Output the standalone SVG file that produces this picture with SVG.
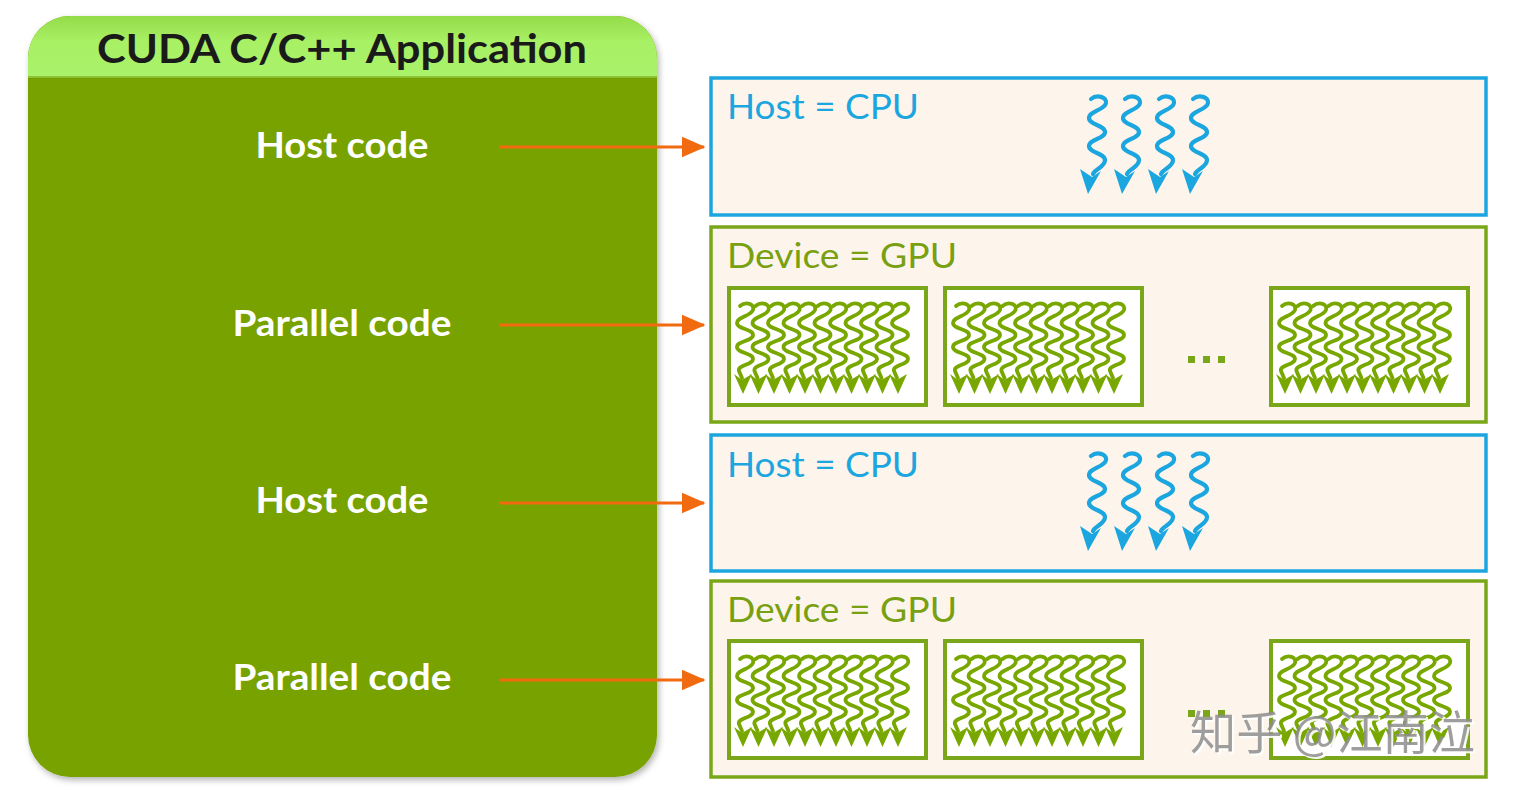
<svg xmlns="http://www.w3.org/2000/svg" xmlns:xlink="http://www.w3.org/1999/xlink" width="1514" height="796" viewBox="0 0 1514 796">
<style>
.lbl{font-family:Lato,"Open Sans","Liberation Sans",sans-serif;font-weight:bold;fill:#ffffff;font-size:36px;text-anchor:middle}
.ttl{font-family:Lato,"Open Sans","Liberation Sans",sans-serif;font-weight:bold;fill:#1a1a1a;font-size:41px;text-anchor:middle}
.hostT{font-family:Lato,"Open Sans","Liberation Sans",sans-serif;fill:#1ca6e0;font-size:35px}
.devT{font-family:Lato,"Open Sans","Liberation Sans",sans-serif;fill:#78a010;font-size:35px}
.hostBox{fill:#fdf5ec;stroke:#1ca6e0;stroke-width:3.5}
.devBox{fill:#fdf5ec;stroke:#7aa619;stroke-width:3.5}
.sub{fill:#ffffff;stroke:#7aa619;stroke-width:4}
.conn{stroke:#f26a10;stroke-width:3;fill:none}
.bw{fill:none;stroke:#1ca6e0;stroke-width:4.2;stroke-linecap:round}
.gw{fill:none;stroke:#78a800;stroke-width:3.8;stroke-linecap:round}
.wm{font-family:"Noto Sans CJK SC","Liberation Sans",sans-serif;font-size:46px}
</style>
<defs>
<linearGradient id="hdr" x1="0" y1="0" x2="0" y2="1">
<stop offset="0" stop-color="#94dc48"/>
<stop offset="0.4" stop-color="#a8f064"/>
<stop offset="1" stop-color="#aaf26a"/>
</linearGradient>
<filter id="sh" x="-5%" y="-5%" width="110%" height="110%">
<feDropShadow dx="2" dy="3" stdDeviation="3" flood-color="#000" flood-opacity="0.3"/>
</filter>
<clipPath id="appClip"><rect x="28" y="16" width="629" height="761" rx="42"/></clipPath>
<marker id="ah" markerWidth="8" markerHeight="7" refX="7.5" refY="3.5" orient="auto" markerUnits="strokeWidth">
<path d="M0,0 L8,3.5 L0,7 Z" fill="#f26a10"/>
</marker>
<g id="bt">
<path class="bw" d="M -6 2 C 0 -3 10 0 9 6 C 8 13 -8 14 -8 21 C -8 28 8 28 8 35 C 8 42 -8 42 -8 49 C -8 56 8 56 8 63 C 8 70 -2 72 -4 77"/>
<polygon fill="#1ca6e0" points="-17,72 -5,80 4,74 -9,97"/>
</g>
<g id="gt">
<path class="gw" d="M -5 3 C 1 -2 10 1 8 7 C 6 13 -8 14 -8 20 C -8 26 8 26 8 32 C 8 38 -8 38 -8 44 C -8 50 8 50 8 56 C 8 62 -8 62 -6 68 L -3 75"/>
<polygon fill="#78a800" points="-11,71 -3,77 7,71 -2,91"/>
</g>
<g id="bthreads">
<use href="#bt" x="1097" y="97"/>
<use href="#bt" x="1131" y="97"/>
<use href="#bt" x="1165" y="97"/>
<use href="#bt" x="1199" y="97"/>
</g>
<g id="gblock">
<rect class="sub" x="0" y="0" width="197" height="117"/>
<use href="#gt" x="16" y="15"/>
<use href="#gt" x="31.5" y="15"/>
<use href="#gt" x="47" y="15"/>
<use href="#gt" x="62.5" y="15"/>
<use href="#gt" x="78" y="15"/>
<use href="#gt" x="93.5" y="15"/>
<use href="#gt" x="109" y="15"/>
<use href="#gt" x="124.5" y="15"/>
<use href="#gt" x="140" y="15"/>
<use href="#gt" x="155.5" y="15"/>
<use href="#gt" x="171" y="15"/>
</g>
<g id="dots" fill="#7aa619">
<rect x="0" y="0" width="7" height="7"/>
<rect x="15" y="0" width="7" height="7"/>
<rect x="30" y="0" width="7" height="7"/>
</g>
</defs>
<rect width="1514" height="796" fill="#ffffff"/>

<g id="app">
<rect x="28" y="16" width="629" height="761" rx="42" fill="#78a200" filter="url(#sh)"/>
<g clip-path="url(#appClip)">
<rect x="28" y="16" width="629" height="62" fill="url(#hdr)"/>
<rect x="28" y="76" width="629" height="3" fill="#6c9400" opacity="0.5"/>
</g>
<text class="ttl" x="342" y="63" textLength="490" lengthAdjust="spacingAndGlyphs">CUDA C/C++ Application</text>
<text class="lbl" x="342" y="158" textLength="173" lengthAdjust="spacingAndGlyphs">Host code</text>
<text class="lbl" x="342" y="336" textLength="219" lengthAdjust="spacingAndGlyphs">Parallel code</text>
<text class="lbl" x="342" y="513" textLength="173" lengthAdjust="spacingAndGlyphs">Host code</text>
<text class="lbl" x="342" y="690" textLength="219" lengthAdjust="spacingAndGlyphs">Parallel code</text>
</g>

<g id="host1">
<rect class="hostBox" x="711" y="78" width="775" height="137"/>
<text class="hostT" x="727" y="119" textLength="192" lengthAdjust="spacingAndGlyphs">Host = CPU</text>
<use href="#bthreads"/>
</g>

<g id="device1">
<rect class="devBox" x="711" y="227" width="775" height="195"/>
<text class="devT" x="727" y="268" textLength="230" lengthAdjust="spacingAndGlyphs">Device = GPU</text>
<use href="#gblock" x="729" y="288"/>
<use href="#gblock" x="945" y="288"/>
<use href="#dots" x="1188" y="356"/>
<use href="#gblock" x="1271" y="288"/>
</g>

<g id="host2">
<rect class="hostBox" x="711" y="435" width="775" height="136"/>
<text class="hostT" x="727" y="477" textLength="192" lengthAdjust="spacingAndGlyphs">Host = CPU</text>
<use href="#bthreads" y="357"/>
</g>

<g id="device2">
<rect class="devBox" x="711" y="581" width="775" height="196"/>
<text class="devT" x="727" y="622" textLength="230" lengthAdjust="spacingAndGlyphs">Device = GPU</text>
<use href="#gblock" x="729" y="641"/>
<use href="#gblock" x="945" y="641"/>
<use href="#dots" x="1188" y="710"/>
<use href="#gblock" x="1271" y="641"/>
</g>

<g id="connectors">
<line class="conn" x1="499" y1="147" x2="704" y2="147" marker-end="url(#ah)"/>
<line class="conn" x1="499" y1="325" x2="704" y2="325" marker-end="url(#ah)"/>
<line class="conn" x1="499" y1="503" x2="704" y2="503" marker-end="url(#ah)"/>
<line class="conn" x1="499" y1="680" x2="704" y2="680" marker-end="url(#ah)"/>
</g>

<g id="watermark">
<text class="wm" x="1192" y="751" fill="#ffffff" opacity="0.9" textLength="285" lengthAdjust="spacingAndGlyphs">知乎 @江南泣</text>
<text class="wm" x="1190" y="749" fill="#8e8e8e" opacity="0.85" textLength="285" lengthAdjust="spacingAndGlyphs">知乎 @江南泣</text>
</g>
</svg>
